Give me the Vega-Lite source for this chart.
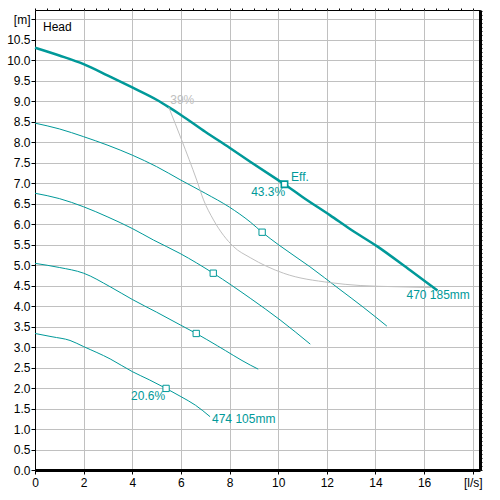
{
  "$schema": "https://vega.github.io/schema/vega-lite/v6.json",
  "width": 445,
  "height": 460,
  "autosize": {"type": "none"},
  "padding": {"left": 35, "top": 10, "right": 20, "bottom": 30},
  "background": "white",
  "config": {
    "view": {"stroke": "black", "strokeWidth": 1},
    "font": "Liberation Sans",
    "axis": {"labelFont": "Liberation Sans", "labelFontSize": 12, "labelColor": "black", "title": null}
  },
  "datasets": {
    "main": [
      {"q": 0, "h": 10.30}, {"q": 1, "h": 10.11}, {"q": 2, "h": 9.90}, {"q": 3, "h": 9.62},
      {"q": 4, "h": 9.33}, {"q": 5, "h": 9.03}, {"q": 5.5, "h": 8.85}, {"q": 6, "h": 8.66},
      {"q": 7, "h": 8.25}, {"q": 8, "h": 7.86}, {"q": 8.85, "h": 7.52}, {"q": 10, "h": 7.07},
      {"q": 10.26, "h": 6.97}, {"q": 11, "h": 6.66}, {"q": 12.14, "h": 6.21}, {"q": 13, "h": 5.86},
      {"q": 14.06, "h": 5.46}, {"q": 15.43, "h": 4.87}, {"q": 16.55, "h": 4.38}
    ],
    "thin": [
      {"s": "b", "q": 0, "h": 8.46}, {"s": "b", "q": 1, "h": 8.32}, {"s": "b", "q": 2, "h": 8.13},
      {"s": "b", "q": 3, "h": 7.92}, {"s": "b", "q": 4, "h": 7.68}, {"s": "b", "q": 5, "h": 7.40},
      {"s": "b", "q": 6, "h": 7.07}, {"s": "b", "q": 7, "h": 6.75}, {"s": "b", "q": 8, "h": 6.41},
      {"s": "b", "q": 8.85, "h": 6.05}, {"s": "b", "q": 9.34, "h": 5.80}, {"s": "b", "q": 10, "h": 5.50},
      {"s": "b", "q": 11.3, "h": 4.96}, {"s": "b", "q": 12.5, "h": 4.42}, {"s": "b", "q": 13.5, "h": 3.97},
      {"s": "b", "q": 14.47, "h": 3.51},
      {"s": "c", "q": 0, "h": 6.75}, {"s": "c", "q": 1, "h": 6.62}, {"s": "c", "q": 2, "h": 6.42},
      {"s": "c", "q": 3, "h": 6.17}, {"s": "c", "q": 4, "h": 5.89}, {"s": "c", "q": 4.87, "h": 5.61},
      {"s": "c", "q": 5.97, "h": 5.28}, {"s": "c", "q": 7.33, "h": 4.80}, {"s": "c", "q": 8.85, "h": 4.19},
      {"s": "c", "q": 10.08, "h": 3.66}, {"s": "c", "q": 11.32, "h": 3.07},
      {"s": "d", "q": 0, "h": 5.04}, {"s": "d", "q": 1, "h": 4.94}, {"s": "d", "q": 2, "h": 4.80},
      {"s": "d", "q": 3.09, "h": 4.47}, {"s": "d", "q": 4, "h": 4.16}, {"s": "d", "q": 5, "h": 3.85},
      {"s": "d", "q": 5.97, "h": 3.54}, {"s": "d", "q": 6.63, "h": 3.33}, {"s": "d", "q": 7.5, "h": 3.03},
      {"s": "d", "q": 8.85, "h": 2.56}, {"s": "d", "q": 9.18, "h": 2.46},
      {"s": "e", "q": 0, "h": 3.33}, {"s": "e", "q": 0.7, "h": 3.25}, {"s": "e", "q": 1.44, "h": 3.16},
      {"s": "e", "q": 2, "h": 3.01}, {"s": "e", "q": 3.09, "h": 2.71}, {"s": "e", "q": 4, "h": 2.40},
      {"s": "e", "q": 4.7, "h": 2.20}, {"s": "e", "q": 5.39, "h": 1.99}, {"s": "e", "q": 6, "h": 1.79},
      {"s": "e", "q": 6.6, "h": 1.58}, {"s": "e", "q": 7.2, "h": 1.30}
    ],
    "gray": [
      {"q": 5.5, "h": 8.85}, {"q": 6.03, "h": 8.05}, {"q": 6.65, "h": 7.07}, {"q": 6.93, "h": 6.59},
      {"q": 7.34, "h": 6.10}, {"q": 8.16, "h": 5.45}, {"q": 8.85, "h": 5.18}, {"q": 10.22, "h": 4.80},
      {"q": 12.14, "h": 4.57}, {"q": 13.37, "h": 4.50}, {"q": 14.9, "h": 4.47}, {"q": 16.3, "h": 4.45}
    ],
    "markers": [
      {"q": 10.26, "h": 6.97, "w": 1.6}, {"q": 9.34, "h": 5.80, "w": 1}, {"q": 7.33, "h": 4.80, "w": 1},
      {"q": 6.63, "h": 3.33, "w": 1}, {"q": 5.39, "h": 1.99, "w": 1}
    ],
    "labelsLeft": [
      {"q": 7.28, "h": 1.24, "t": "474 105mm"},
      {"q": 10.53, "h": 7.15, "t": "Eff."}
    ],
    "labelsRight": [
      {"q": 5.35, "h": 1.80, "t": "20.6%"},
      {"q": 10.29, "h": 6.78, "t": "43.3%"}
    ],
    "labelsCenter": [
      {"q": 16.58, "h": 4.27, "t": "470 185mm"}
    ],
    "labelsGray": [
      {"q": 5.56, "h": 9.02, "t": "39%"}
    ],
    "labelsBlack": [
      {"q": 0.33, "h": 10.8, "t": "Head"}
    ]
  },
  "layer": [
    {
      "data": {"name": "main"},
      "mark": {"type": "line", "color": "#009999", "strokeWidth": 2.5, "interpolate": "monotone"},
      "encoding": {
        "x": {"field": "q", "type": "quantitative", "scale": {"domain": [0, 18.3], "nice": false, "zero": false},
          "axis": {"values": [0, 2, 4, 6, 8, 10, 12, 14, 16, 18], "grid": true, "gridColor": "#c0c0c0", "gridWidth": 1,
            "domainColor": "black", "domainWidth": 3, "tickColor": "black", "tickSize": 4, "labelPadding": 3,
            "labelExpr": "datum.value == 18 ? '[l/s]' : datum.label", "labelFlush": false}},
        "y": {"field": "h", "type": "quantitative", "scale": {"domain": [0, 11.22], "nice": false, "zero": false},
          "axis": {"values": [0, 0.5, 1, 1.5, 2, 2.5, 3, 3.5, 4, 4.5, 5, 5.5, 6, 6.5, 7, 7.5, 8, 8.5, 9, 9.5, 10, 10.5, 11],
            "grid": true, "gridColor": "#c0c0c0", "gridWidth": 1, "domainColor": "black", "domainWidth": 1,
            "tickColor": "black", "tickSize": 4, "labelPadding": 1,
            "labelExpr": "datum.value == 11 ? '[m]' : format(datum.value, '.1f')", "labelFlush": false}}
      }
    },
    {
      "data": {"name": "thin"},
      "mark": {"type": "line", "color": "#009999", "strokeWidth": 1, "interpolate": "monotone"},
      "encoding": {
        "x": {"field": "q", "type": "quantitative", "scale": {"domain": [0, 18.3], "nice": false, "zero": false},
          "axis": {"values": [0, 0.5, 1, 1.5, 2, 2.5, 3, 3.5, 4, 4.5, 5, 5.5, 6, 6.5, 7, 7.5, 8, 8.5, 9, 9.5, 10, 10.5, 11, 11.5, 12, 12.5, 13, 13.5, 14, 14.5, 15, 15.5, 16, 16.5, 17, 17.5, 18],
            "grid": false, "labels": false, "domain": false, "tickColor": "black", "tickSize": 2}},
        "y": {"field": "h", "type": "quantitative", "scale": {"domain": [0, 11.22], "nice": false, "zero": false},
          "axis": {"values": [0, 0.1, 0.2, 0.3, 0.4, 0.5, 0.6, 0.7, 0.8, 0.9, 1, 1.1, 1.2, 1.3, 1.4, 1.5, 1.6, 1.7, 1.8, 1.9, 2, 2.1, 2.2, 2.3, 2.4, 2.5, 2.6, 2.7, 2.8, 2.9, 3, 3.1, 3.2, 3.3, 3.4, 3.5, 3.6, 3.7, 3.8, 3.9, 4, 4.1, 4.2, 4.3, 4.4, 4.5, 4.6, 4.7, 4.8, 4.9, 5, 5.1, 5.2, 5.3, 5.4, 5.5, 5.6, 5.7, 5.8, 5.9, 6, 6.1, 6.2, 6.3, 6.4, 6.5, 6.6, 6.7, 6.8, 6.9, 7, 7.1, 7.2, 7.3, 7.4, 7.5, 7.6, 7.7, 7.8, 7.9, 8, 8.1, 8.2, 8.3, 8.4, 8.5, 8.6, 8.7, 8.8, 8.9, 9, 9.1, 9.2, 9.3, 9.4, 9.5, 9.6, 9.7, 9.8, 9.9, 10, 10.1, 10.2, 10.3, 10.4, 10.5, 10.6, 10.7, 10.8, 10.9, 11, 11.1, 11.2],
            "grid": false, "labels": false, "domain": false, "tickColor": "black", "tickSize": 2}},
        "detail": {"field": "s", "type": "nominal"}
      }
    },
    {
      "data": {"name": "gray"},
      "mark": {"type": "line", "color": "#c0c0c0", "strokeWidth": 1, "interpolate": "monotone"},
      "encoding": {
        "x": {"field": "q", "type": "quantitative", "scale": {"domain": [0, 18.3], "nice": false, "zero": false}, "axis": null},
        "y": {"field": "h", "type": "quantitative", "scale": {"domain": [0, 11.22], "nice": false, "zero": false},
          "axis": {"orient": "right", "grid": false, "labels": false, "ticks": false, "domainColor": "black", "domainWidth": 3}}
      }
    },
    {
      "data": {"name": "markers"},
      "mark": {"type": "point", "shape": "square", "size": 40, "color": "#009999", "fill": "white", "filled": false, "opacity": 1},
      "encoding": {
        "x": {"field": "q", "type": "quantitative", "scale": {"domain": [0, 18.3], "nice": false, "zero": false}, "axis": null},
        "y": {"field": "h", "type": "quantitative", "scale": {"domain": [0, 11.22], "nice": false, "zero": false}, "axis": null},
        "strokeWidth": {"field": "w", "type": "quantitative", "scale": null}
      }
    },
    {
      "data": {"name": "labelsLeft"},
      "mark": {"type": "text", "align": "left", "baseline": "middle", "color": "#009999", "fontSize": 12, "font": "Liberation Sans"},
      "encoding": {
        "x": {"field": "q", "type": "quantitative", "scale": {"domain": [0, 18.3], "nice": false, "zero": false}, "axis": null},
        "y": {"field": "h", "type": "quantitative", "scale": {"domain": [0, 11.22], "nice": false, "zero": false}, "axis": null},
        "text": {"field": "t", "type": "nominal"}
      }
    },
    {
      "data": {"name": "labelsRight"},
      "mark": {"type": "text", "align": "right", "baseline": "middle", "color": "#009999", "fontSize": 12, "font": "Liberation Sans"},
      "encoding": {
        "x": {"field": "q", "type": "quantitative", "scale": {"domain": [0, 18.3], "nice": false, "zero": false}, "axis": null},
        "y": {"field": "h", "type": "quantitative", "scale": {"domain": [0, 11.22], "nice": false, "zero": false}, "axis": null},
        "text": {"field": "t", "type": "nominal"}
      }
    },
    {
      "data": {"name": "labelsCenter"},
      "mark": {"type": "text", "align": "center", "baseline": "middle", "color": "#009999", "fontSize": 12, "font": "Liberation Sans"},
      "encoding": {
        "x": {"field": "q", "type": "quantitative", "scale": {"domain": [0, 18.3], "nice": false, "zero": false}, "axis": null},
        "y": {"field": "h", "type": "quantitative", "scale": {"domain": [0, 11.22], "nice": false, "zero": false}, "axis": null},
        "text": {"field": "t", "type": "nominal"}
      }
    },
    {
      "data": {"name": "labelsGray"},
      "mark": {"type": "text", "align": "left", "baseline": "middle", "color": "#c0c0c0", "fontSize": 12, "font": "Liberation Sans"},
      "encoding": {
        "x": {"field": "q", "type": "quantitative", "scale": {"domain": [0, 18.3], "nice": false, "zero": false}, "axis": null},
        "y": {"field": "h", "type": "quantitative", "scale": {"domain": [0, 11.22], "nice": false, "zero": false}, "axis": null},
        "text": {"field": "t", "type": "nominal"}
      }
    },
    {
      "data": {"name": "labelsBlack"},
      "mark": {"type": "text", "align": "left", "baseline": "middle", "color": "black", "fontSize": 12, "font": "Liberation Sans"},
      "encoding": {
        "x": {"field": "q", "type": "quantitative", "scale": {"domain": [0, 18.3], "nice": false, "zero": false}, "axis": null},
        "y": {"field": "h", "type": "quantitative", "scale": {"domain": [0, 11.22], "nice": false, "zero": false}, "axis": null},
        "text": {"field": "t", "type": "nominal"}
      }
    }
  ],
  "resolve": {"axis": {"x": "independent", "y": "independent"}}
}
